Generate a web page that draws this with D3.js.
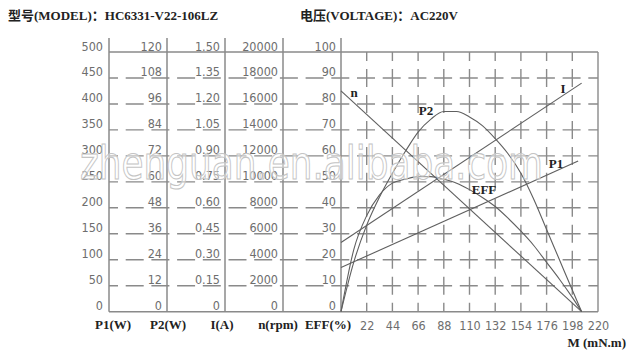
<!DOCTYPE html>
<html>
<head>
<meta charset="utf-8">
<script src="https://cdn.jsdelivr.net/npm/d3@7"></script>
<style>
  body { margin:0; background:#fff; }
  svg { display:block; }
</style>
</head>
<body>
<div id="chart-area"></div>
<script>
// motor characteristic curves

var torque = [0, 11, 22, 33, 44, 55, 66, 77, 88, 99, 110, 121, 132, 143, 154, 165, 176, 187, 198, 206];
var p2Out  = [0, 23, 40, 53, 64, 74, 83, 89, 92.5, 92.5, 90, 86, 80, 73, 64, 52, 38, 24, 10, 0];
var effPct = [0, 24, 37, 45, 49.5, 51, 52, 52, 51, 49.5, 47, 44, 40.5, 36, 31, 25.5, 19, 12.5, 5.5, 0];

var nTorque = [0, 206];
var nRpm    = [17000, 0];
var iTorque = [0, 206];
var iAmp    = [0.40, 1.32];
var p1Torque = [0, 203];
var p1Watt   = [85, 290];

var p1Ticks  = [0, 50, 100, 150, 200, 250, 300, 350, 400, 450, 500];
var p2Ticks  = [0, 12, 24, 36, 48, 60, 72, 84, 96, 108, 120];
var iTicks   = [0, 0.15, 0.30, 0.45, 0.60, 0.75, 0.90, 1.05, 1.20, 1.35, 1.50];
var nTicks   = [0, 2000, 4000, 6000, 8000, 10000, 12000, 14000, 16000, 18000, 20000];
var effTicks = [0, 10, 20, 30, 40, 50, 60, 70, 80, 90, 100];
var mTicks   = [22, 44, 66, 88, 110, 132, 154, 176, 198, 220];

var colNames = ["P1(W)", "P2(W)", "I(A)", "n(rpm)", "EFF(%)"];

var W = 627, H = 350;
var gTop = 52, gBottom = 311.7, gLeft = 109, colW = 58;
var plotL = gLeft + colW * 4, plotR = 598;

var svg = d3.select("#chart-area").append("svg")
	.attr("width", W).attr("height", H);

var numFont = "'Liberation Sans Narrow','DejaVu Sans Condensed','Liberation Sans',sans-serif";
var boldFont = "'Liberation Serif','Times New Roman','Noto Sans CJK SC',serif";
var gridCol = "#8a8a8a";

var yP1  = d3.scaleLinear().domain([0, 500]).range([gBottom, gTop]);
var yP2  = d3.scaleLinear().domain([0, 120]).range([gBottom, gTop]);
var yI   = d3.scaleLinear().domain([0, 1.5]).range([gBottom, gTop]);
var yN   = d3.scaleLinear().domain([0, 20000]).range([gBottom, gTop]);
var yEff = d3.scaleLinear().domain([0, 100]).range([gBottom, gTop]);
var x    = d3.scaleLinear().domain([0, 220]).range([plotL, plotR]);

// titles
svg.append("text").attr("x", 8).attr("y", 20)
	.attr("font-family", boldFont).attr("font-weight", "bold").attr("font-size", "13px")
	.attr("fill", "#222").text("型号(MODEL)：HC6331-V22-106LZ");
svg.append("text").attr("x", 300).attr("y", 20)
	.attr("font-family", boldFont).attr("font-weight", "bold").attr("font-size", "13px")
	.attr("fill", "#222").text("电压(VOLTAGE)：AC220V");

var grid = svg.append("g");

// horizontal dashed grid lines (0 and top are solid)
var step = x(22) - x(0);
grid.selectAll(".hgrid").data(p1Ticks.slice(1, -1)).enter()
	.append("line")
	.attr("x1", gLeft).attr("x2", plotR)
	.attr("y1", function(d){ return yP1(d); })
	.attr("y2", function(d){ return yP1(d); })
	.attr("stroke", gridCol).attr("stroke-width", 1.4)
	.attr("stroke-dasharray", "18," + (step - 18))
	.attr("stroke-dashoffset", 9);

// vertical dashed grid lines inside the plot
var vstep = yP1(0) - yP1(50);
grid.selectAll(".vgrid").data(mTicks.slice(0, -1)).enter()
	.append("line")
	.attr("x1", function(d){ return x(d); })
	.attr("x2", function(d){ return x(d); })
	.attr("y1", gTop).attr("y2", gBottom)
	.attr("stroke", gridCol).attr("stroke-width", 1.4)
	.attr("stroke-dasharray", "18," + (vstep - 18))
	.attr("stroke-dashoffset", 9);

// solid frame lines
grid.append("line").attr("x1", gLeft).attr("x2", plotR).attr("y1", gTop).attr("y2", gTop)
	.attr("stroke", gridCol).attr("stroke-width", 1.4);
grid.append("line").attr("x1", gLeft).attr("x2", plotR).attr("y1", gBottom).attr("y2", gBottom)
	.attr("stroke", gridCol).attr("stroke-width", 1.6);
grid.append("line").attr("x1", plotR).attr("x2", plotR).attr("y1", gTop).attr("y2", gBottom)
	.attr("stroke", gridCol).attr("stroke-width", 1.4);
for (var k = 0; k <= 4; k++) {
	grid.append("line")
		.attr("x1", gLeft + k * colW).attr("x2", gLeft + k * colW)
		.attr("y1", 38).attr("y2", gBottom)
		.attr("stroke", gridCol).attr("stroke-width", 1.5);
}

// column axes
var cols = [
	{ scale: yP1,  ticks: p1Ticks,  fmt: d3.format("d") },
	{ scale: yP2,  ticks: p2Ticks,  fmt: d3.format("d") },
	{ scale: yI,   ticks: iTicks,   fmt: function(d){ return d == 0 ? "0" : d3.format(".2f")(d); } },
	{ scale: yN,   ticks: nTicks,   fmt: d3.format("d") },
	{ scale: yEff, ticks: effTicks, fmt: d3.format("d") }
];
cols.forEach(function(c, i){
	var ax = d3.axisLeft(c.scale).tickValues(c.ticks).tickFormat(c.fmt)
		.tickSize(0).tickPadding(i == 0 ? 6 : 5);
	var g = svg.append("g")
		.attr("transform", "translate(" + (gLeft + i * colW) + ",-6)")
		.call(ax);
	g.select(".domain").remove();
	g.selectAll("text")
		.attr("font-family", numFont).attr("font-size", "12.5px").attr("fill", "#6e6e6e");

	svg.append("text")
		.attr("x", [113, 168, 222, 278, 328][i]).attr("y", 329)
		.attr("text-anchor", "middle")
		.attr("font-family", boldFont).attr("font-weight", "bold").attr("font-size", "13px")
		.attr("fill", "#222").text(colNames[i]);
});

// torque axis
var xAxis = d3.axisBottom(x).tickValues(mTicks).tickFormat(d3.format("d"))
	.tickSize(0).tickPadding(9);
var gx = svg.append("g").attr("transform", "translate(0," + gBottom + ")").call(xAxis);
gx.select(".domain").remove();
gx.selectAll("text")
	.attr("font-family", numFont).attr("font-size", "12.5px").attr("fill", "#6e6e6e");

svg.append("text").attr("x", 626).attr("y", 347).attr("text-anchor", "end")
	.attr("font-family", boldFont).attr("font-weight", "bold").attr("font-size", "13px")
	.attr("fill", "#222").text("M (mN.m)");

// curves
var curves = svg.append("g").attr("fill", "none").attr("stroke", "#5f5f5f").attr("stroke-width", 1.1);

function pts(xs, ys) { return xs.map(function(d, i){ return [d, ys[i]]; }); }

curves.append("path")
	.attr("d", d3.line().x(function(d){ return x(d[0]); }).y(function(d){ return yN(d[1]); })(pts(nTorque, nRpm)));
curves.append("path")
	.attr("d", d3.line().x(function(d){ return x(d[0]); }).y(function(d){ return yI(d[1]); })(pts(iTorque, iAmp)));
curves.append("path")
	.attr("d", d3.line().x(function(d){ return x(d[0]); }).y(function(d){ return yP1(d[1]); })(pts(p1Torque, p1Watt)));
curves.append("path")
	.attr("d", d3.line().curve(d3.curveMonotoneX).x(function(d){ return x(d[0]); }).y(function(d){ return yP2(d[1]); })(pts(torque, p2Out)));
curves.append("path")
	.attr("d", d3.line().curve(d3.curveMonotoneX).x(function(d){ return x(d[0]); }).y(function(d){ return yEff(d[1]); })(pts(torque, effPct)));

// curve names
var names = [["n", 354, 97], ["P2", 426, 115], ["I", 563, 93], ["P1", 556, 168], ["EFF", 484, 194]];
names.forEach(function(n){
	svg.append("text").attr("x", n[1]).attr("y", n[2]).attr("text-anchor", "middle")
		.attr("font-family", boldFont).attr("font-weight", "bold").attr("font-size", "13px")
		.attr("fill", "#222").text(n[0]);
});

// watermark
svg.append("text")
	.attr("x", 80).attr("y", 179)
	.attr("font-family", "'DejaVu Sans',sans-serif")
	.attr("font-size", "46px")
	.attr("textLength", 463).attr("lengthAdjust", "spacingAndGlyphs")
	.attr("fill", "#fff").attr("fill-opacity", 0.45)
	.attr("stroke", "#c4c4c4").attr("stroke-width", 1.1)
	.text("zhenguan.en.alibaba.com");
</script>
</body>
</html>
